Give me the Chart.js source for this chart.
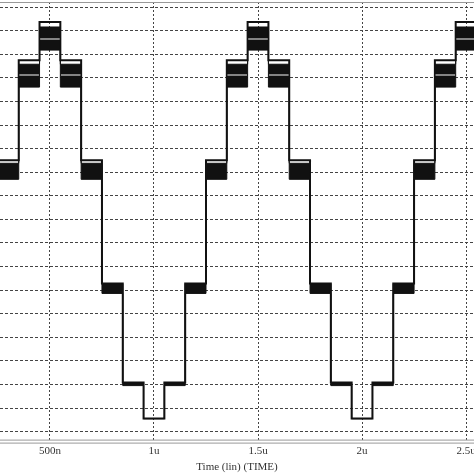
<!DOCTYPE html>
<html>
<script src="https://cdn.jsdelivr.net/npm/chart.js@4.4.1/dist/chart.umd.min.js"></script>
<body style="margin:0;background:#fff">

<div style="width:474px;height:474px"><canvas id="myChart"></canvas></div>

<script>

    // step start times (ns), last entry closes the final step
    const stepStart = [250, 350, 450, 550, 650, 750, 850, 950, 1050, 1150, 1250, 1350,
                       1450, 1550, 1650, 1750, 1850, 1950, 2050, 2150, 2250, 2350, 2450, 2550];

    // outer trace (top edge of each step)
    const outline = [1.151, 1.575, 1.737, 1.575, 1.151, 0.628, 0.208, 0.055, 0.208, 0.628, 1.151, 1.575,
                     1.737, 1.575, 1.151, 0.628, 0.208, 0.055, 0.208, 0.628, 1.151, 1.575, 1.737];
    // dense band of traces under it
    const bandTop = [1.138, 1.558, 1.716, 1.558, 1.138, 0.626, 0.206, 0.055, 0.206, 0.626, 1.138, 1.558,
                     1.716, 1.558, 1.138, 0.626, 0.206, 0.055, 0.206, 0.626, 1.138, 1.558, 1.716];
    const bandBottom = [1.070, 1.461, 1.618, 1.461, 1.070, 0.586, 0.195, 0.055, 0.195, 0.586, 1.070, 1.461,
                        1.618, 1.461, 1.070, 0.586, 0.195, 0.055, 0.195, 0.586, 1.070, 1.461, 1.618];
    // light trace inside the upper bands
    const midLine = [null, 1.512, 1.665, 1.512, null, null, null, null, null, null, null, 1.512,
                     1.665, 1.512, null, null, null, null, null, null, null, 1.512, 1.665];

    const xTicks = [500, 1000, 1500, 2000, 2500];
    const xLabels = ["500n", "1u", "1.5u", "2u", "2.5u"];
    const yGrid = [0, 0.1, 0.2, 0.3, 0.4, 0.5, 0.6, 0.7, 0.8, 0.9, 1.0,
                   1.1, 1.2, 1.3, 1.4, 1.5, 1.6, 1.7, 1.8];

    function steps(vals) {
        const pts = vals.map((v, i) => ({x: stepStart[i], y: v}));
        pts.push({x: stepStart[vals.length], y: vals[vals.length - 1]});
        return pts;
    }

    const midPts = [];
    midLine.forEach((v, i) => {
        if (v === null) return;
        midPts.push({x: stepStart[i] + 3, y: v}, {x: stepStart[i + 1] - 3, y: v}, {x: stepStart[i + 1], y: null});
    });

    const frame = {
        id: "frame",
        afterDraw(c) {
            const a = c.chartArea, ctx = c.ctx;
            ctx.save();
            ctx.strokeStyle = "#999";
            ctx.lineWidth = 1;
            ctx.beginPath();
            ctx.moveTo(0, a.top + 0.5); ctx.lineTo(c.width, a.top + 0.5);
            ctx.moveTo(0, a.bottom - 1.5); ctx.lineTo(c.width, a.bottom - 1.5);
            ctx.moveTo(0, a.bottom + 1.5); ctx.lineTo(c.width, a.bottom + 1.5);
            ctx.stroke();
            ctx.restore();
        }
    };

    const chart = new Chart(document.getElementById("myChart"), {
        type: "line",
        data: {
            datasets: [
                {data: midPts, borderColor: "#aaa", borderWidth: 1.5, pointRadius: 0, spanGaps: false},
                {data: steps(outline), stepped: true, borderColor: "#111", borderWidth: 2, pointRadius: 0},
                {data: steps(bandTop), stepped: true, borderColor: "#111", borderWidth: 1, pointRadius: 0},
                {data: steps(bandBottom), stepped: true, borderColor: "#111", borderWidth: 1, pointRadius: 0,
                 fill: 2, backgroundColor: "#111"}
            ]
        },
        plugins: [frame],
        options: {
            responsive: true,
            maintainAspectRatio: false,
            animation: false,
            layout: {padding: {top: 2, left: 0, right: 0, bottom: 0}},
            plugins: {legend: {display: false}, tooltip: {enabled: false}},
            scales: {
                x: {
                    type: "linear",
                    min: 260,
                    max: 2538,
                    afterBuildTicks: (axis) => { axis.ticks = xTicks.map(v => ({value: v})); },
                    // plot runs edge to edge, the last label may be cut like in the original
                    afterFit: (axis) => { axis.paddingLeft = 0; axis.paddingRight = 0; },
                    grid: {color: "#444", lineWidth: 1, drawTicks: false},
                    border: {display: false, dash: [2, 2]},
                    ticks: {
                        padding: 3,
                        color: "#333",
                        font: {family: "Liberation Serif", size: 11},
                        maxRotation: 0,
                        callback: (v) => xLabels[xTicks.indexOf(v)]
                    },
                    title: {
                        display: true,
                        text: "Time (lin) (TIME)",
                        color: "#333",
                        font: {family: "Liberation Serif", size: 11},
                        padding: {top: 0, bottom: 0}
                    }
                },
                y: {
                    min: -0.0425,
                    max: 1.822,
                    afterBuildTicks: (axis) => { axis.ticks = yGrid.map(v => ({value: v})); },
                    grid: {color: "#444", lineWidth: 1, drawTicks: false},
                    border: {display: false, dash: [3, 2]},
                    ticks: {display: false}
                }
            }
        }
    });

</script>

</body>
</html>
